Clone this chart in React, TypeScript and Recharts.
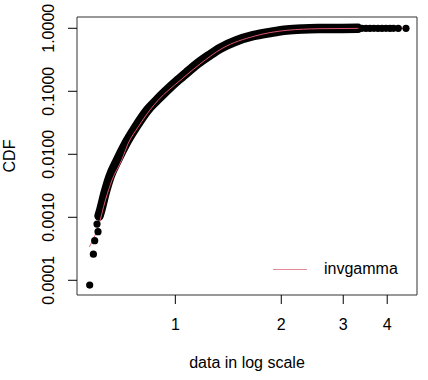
import { ComposedChart, Line, Scatter, XAxis, YAxis, ReferenceArea, Legend, Label } from "recharts";

const FONT = '"Liberation Sans", Arial, sans-serif';

// empirical CDF: isolated points at the bottom
const lowTailX = [0.571, 0.585, 0.59, 0.603, 0.599];
const lowTailY = [0.000084, 0.00026, 0.000425, 0.00059, 0.00078];

// empirical CDF: dense part (the points overlap into a band)
const bandX = [0.607, 0.614, 0.631, 0.652, 0.685, 0.724, 0.773, 0.834, 0.887, 0.935, 1.018, 1.087, 1.16, 1.247, 1.34, 1.487, 1.663, 1.858, 2.076, 2.306, 2.578, 2.938, 3.304];
const bandY = [0.00105, 0.00131, 0.0024, 0.00441, 0.00812, 0.015, 0.0274, 0.0505, 0.0728, 0.0975, 0.151, 0.206, 0.278, 0.37, 0.481, 0.629, 0.763, 0.857, 0.94, 0.975, 0.99, 0.996, 0.999];

// empirical CDF: the last few points on the right
const highTailX = [3.393, 3.482, 3.574, 3.668, 3.766, 3.866, 3.968, 4.073, 4.168, 4.301, 4.523];
const highTailY = [0.9991, 0.9992, 0.9993, 0.9994, 0.9995, 0.9996, 0.9997, 0.9998, 0.99985, 0.9999, 0.99995];

// fitted inverse gamma CDF
const fitX = [0.57, 0.604, 0.633, 0.661, 0.704, 0.735, 0.785, 0.847, 0.895, 1.031, 1.175, 1.357, 1.684, 2.076, 2.578, 3.3, 4.464];
const fitY = [0.00034, 0.00071, 0.00188, 0.00391, 0.00812, 0.015, 0.0274, 0.0505, 0.0728, 0.148, 0.271, 0.478, 0.755, 0.929, 0.985, 0.997, 0.9995];

const xTicks = [1, 2, 3, 4];
const yTicks = [0.0001, 0.001, 0.01, 0.1, 1];
const fitName = "invgamma";

const X_MIN = 0.5255;
const X_MAX = 4.861;
const Y_MIN = 0.0000584;
const Y_MAX = 1.511;

const zip = (xs: number[], ys: number[]) => xs.map((x, i) => ({ x, y: ys[i] }));

const tails = [...zip(lowTailX, lowTailY), ...zip(highTailX, highTailY)];
const band = zip(bandX, bandY);
const fit = zip(fitX, fitY);

const YTick = ({ y, payload }: any) => (
  <text
    x={54}
    y={y}
    transform={`rotate(-90 54 ${y})`}
    textAnchor="middle"
    fontSize={16}
    fontFamily={FONT}
    fill="#000"
  >
    {payload.value.toFixed(4)}
  </text>
);

const XTick = ({ x, payload }: any) => (
  <text x={x} y={330} textAnchor="middle" fontSize={16} fontFamily={FONT} fill="#000">
    {payload.value}
  </text>
);

const Dot = (p: any) => <circle cx={p.cx} cy={p.cy} r={3.6} fill="#000" />;

export default function App() {
  return (
    <div style={{ position: "fixed", left: 0, top: 0, background: "#fff" }}>
      <ComposedChart width={428} height={380} margin={{ top: 17, right: 11, left: 0, bottom: 0 }}>
        <XAxis
          dataKey="x"
          type="number"
          scale="log"
          domain={[X_MIN, X_MAX]}
          allowDataOverflow
          ticks={xTicks}
          interval={0}
          tick={<XTick />}
          tickSize={9}
          tickLine={{ stroke: "#000" }}
          axisLine={false}
          height={85}
        >
          <Label
            content={() => (
              <text x={247} y={368} textAnchor="middle" fontSize={16} fontFamily={FONT} fill="#000">
                data in log scale
              </text>
            )}
          />
        </XAxis>
        <YAxis
          dataKey="y"
          type="number"
          scale="log"
          domain={[Y_MIN, Y_MAX]}
          allowDataOverflow
          ticks={yTicks}
          interval={0}
          tick={<YTick />}
          tickSize={9}
          tickLine={{ stroke: "#000" }}
          axisLine={false}
          width={77}
        >
          <Label
            content={() => (
              <text
                x={15}
                y={156}
                transform="rotate(-90 15 156)"
                textAnchor="middle"
                fontSize={16}
                fontFamily={FONT}
                fill="#000"
              >
                CDF
              </text>
            )}
          />
        </YAxis>
        <ReferenceArea x1={X_MIN} x2={X_MAX} y1={Y_MIN} y2={Y_MAX} fill="none" stroke="#333" strokeWidth={1} />
        <Line
          data={band}
          dataKey="y"
          type="monotoneX"
          stroke="#000"
          strokeWidth={9.5}
          strokeLinecap="round"
          strokeLinejoin="round"
          dot={false}
          isAnimationActive={false}
          legendType="none"
        />
        <Scatter data={tails} dataKey="y" shape={<Dot />} isAnimationActive={false} legendType="none" />
        <Line
          data={fit}
          dataKey="y"
          type="monotoneX"
          stroke="#DF536B"
          strokeWidth={1}
          dot={false}
          isAnimationActive={false}
        />
        <Legend
          layout="horizontal"
          verticalAlign="middle"
          align="center"
          wrapperStyle={{ left: 268, top: 259, width: 150, height: 22 }}
          content={() => (
            <svg width={150} height={22}>
              <line x1={5} x2={39} y1={10.5} y2={10.5} stroke="#E58A98" strokeWidth={1.2} />
              <text x={56} y={15} fontSize={16} fontFamily={FONT} fill="#000">
                {fitName}
              </text>
            </svg>
          )}
        />
      </ComposedChart>
    </div>
  );
}
